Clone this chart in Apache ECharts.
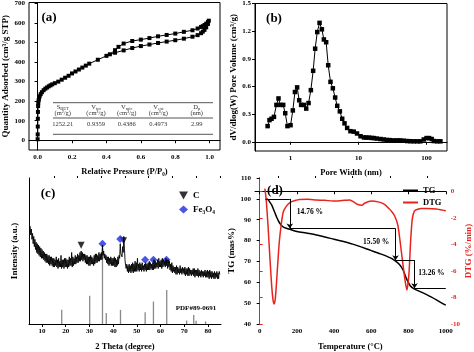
<!DOCTYPE html>
<html>
<head>
<meta charset="utf-8">
<script src="https://cdn.jsdelivr.net/npm/echarts@6/dist/echarts.min.js"></script>
<style>html,body{margin:0;padding:0;background:#fff}#main{width:474px;height:352px}</style>
</head>
<body>
<div id="main"></div>
<script>
var FONT = "'Liberation Serif', 'Times New Roman', serif";

// (a) N2 isotherm
var adsP = [0.0002,0.0005,0.001,0.0015,0.002,0.003,0.004,0.006,0.008,0.012,0.018,0.025,0.035,0.045,0.055,0.065,0.075,0.085,0.1,0.12,0.14,0.16,0.18,0.2,0.22,0.24,0.26,0.28,0.3,0.35,0.4,0.45,0.5,0.55,0.6,0.65,0.7,0.75,0.8,0.85,0.9,0.93,0.95,0.96,0.97,0.98,0.99];
var adsQ = [5,30,70,110,145,175,192,205,214,225,236,246,256,264,270,276,281,286,292,300,310,320,330,342,352,362,372,382,392,412,432,448,460,472,482,490,498,505,512,520,530,538,548,556,565,578,595];
var desP = [0.995,0.99,0.98,0.97,0.96,0.95,0.93,0.9,0.85,0.8,0.75,0.7,0.65,0.6,0.55,0.5,0.47,0.45,0.42];
var desQ = [612,605,597,590,584,580,572,563,555,546,539,532,523,515,508,495,478,461,440];
var tblHead = [['S','BET','(m²/g)'],['V','tot','(cm³/g)'],['V','mic','(cm³/g)'],['V','ext','(cm³/g)'],['D','p','(nm)']];
var tblVals = ['1252.21','0.9359','0.4386','0.4973','2.99'];

// (b) pore size distribution
var poreWidth = [0.46,0.49,0.525,0.57,0.62,0.665,0.71,0.78,0.835,0.90,1.0,1.08,1.16,1.25,1.34,1.43,1.57,1.70,1.84,1.99,2.15,2.30,2.47,2.67,2.89,3.09,3.34,3.58,3.87,4.19,4.53,4.86,5.31,5.75,6.22,6.8,7.6,8.5,9.5,10.7,12,13,14.2,15.5,16.8,18.5,21,23.5,26,29,33,37,41,46,52,58,65,73,81,91,100,109,119,128,143,160];
var poreVol = [0.17,0.235,0.25,0.27,0.40,0.47,0.40,0.40,0.31,0.17,0.18,0.34,0.54,0.59,0.45,0.40,0.40,0.36,0.42,0.56,0.77,1.01,1.19,1.29,1.22,1.11,1.08,0.83,0.65,0.58,0.48,0.39,0.33,0.25,0.20,0.15,0.115,0.11,0.09,0.06,0.047,0.046,0.045,0.042,0.04,0.035,0.03,0.025,0.02,0.018,0.015,0.015,0.015,0.012,0.008,0.006,0.005,0.005,0.005,0.025,0.04,0.04,0.03,0.008,0.005,0.005];

// (c) XRD, 5..85 deg every 0.25 deg (one row = 5 deg)
var xrdStart = 5, xrdStep = 0.25;
var xrdInt = [
  67,61,65,58,62,55,60,53,58,51,56,49,55,48,54,47,53,46,52,45,
  51,45,50,44,49,43,48,42,48,42,47,41,47,40,46,41,46,40,45,39,
  45,39,44,40,46,39,44,38,45,39,43,39,47,38,44,39,44,38,45,39,
  45,39,44,38,44,39,46,40,45,40,49,39,46,40,45,41,47,41,46,42,
  48,42,47,43,49,43,50,44,49,43,48,44,48,42,47,41,47,41,46,40,
  46,40,47,41,46,41,45,40,47,41,48,42,48,42,47,43,49,43,48,44,
  49,44,54,47,50,45,48,44,47,42,46,41,46,40,45,41,46,40,45,40,
  45,40,46,39,45,39,44,40,46,41,47,45,55,48,47,46,53,49,60,52,
  44,40,38,41,36,40,35,41,36,40,35,41,36,42,35,41,36,43,36,42,
  36,45,37,41,36,42,37,41,36,42,37,40,36,41,37,42,36,41,37,42,
  37,43,37,42,38,41,37,42,37,44,38,43,38,42,39,44,38,45,39,43,
  39,44,38,45,39,44,40,43,39,45,40,44,38,44,39,43,37,41,36,42,
  35,40,36,39,35,39,34,40,34,39,35,38,34,40,35,38,34,39,35,38,
  34,39,33,38,34,38,33,39,33,38,34,37,33,37,34,38,33,38,32,37,
  33,37,33,38,32,37,33,36,32,37,33,36,32,36,33,37,32,36,32,37,
  32,36,31,37,32,36,31,36,32,35,31,36,31,35,32,36,31,35,31,36,
  34];
var pdfPos = [18.3,30.1,35.5,37.1,43.1,53.5,57.0,62.6,71.0,74.0,75.0,79.0];
var pdfInt = [9.7,19.3,52,7.5,9.7,8,15.4,23.3,2.3,6.1,2.3,1.8];
var cPeaks = [[26.5,54],[44.4,57]];
var fePeaks = [[35.5,55],[43,58.3],[53.5,44],[57,44],[62.5,44]];

// (d) TG / DTG
var tgT = [32,45,55,65,73,82,91,100,109,118,126,140,162,200,250,305,400,500,600,650,700,725,750,770,790,810,830,850,900,950,1000];
var tgW = [100,99.6,98.4,97,95.3,93.3,91.3,89.6,88.2,87.2,86.6,86,85.4,84.4,83.6,82.7,80.6,78.3,75.2,73.6,71.8,70.5,68.6,66,61.5,58.2,56.8,56,54,51.6,49];
var dtgT = [28,35,45,55,65,72,78,84,90,97,105,115,126,140,162,190,216,260,305,350,394,440,484,528,550,564,600,636,671,689,708,725,743,761,779,791,802,811,820,832,850,868,900,950,993,1000];
var dtgV = [0.2,-0.6,-2.6,-5.0,-7.2,-8.2,-8.5,-8.1,-7.0,-5.5,-3.9,-2.6,-1.6,-1.2,-0.86,-0.7,-0.62,-0.6,-0.66,-0.68,-0.74,-0.7,-0.65,-1.0,-1.05,-0.9,-0.74,-0.8,-0.98,-1.23,-1.5,-1.84,-2.58,-4.5,-6.5,-7.44,-6.26,-3.8,-2.08,-1.47,-1.35,-1.3,-1.3,-1.33,-1.45,-1.47];
// step lines: [x1,y1,x2,y2,arrow]
var tgSteps = [[32,100,162,100,0],[162,100,162,85.8,1],[162,85.8,730,85.8,0],[730,85.8,730,70.6,1],[730,70.6,832,70.6,0],[832,70.6,832,57.1,1],[832,57.1,1000,57.1,0]];
var tgLoss = [['14.76 %',270,93.2],['15.50 %',626,79],['13.26 %',923,64.3]];

var chart = echarts.init(document.getElementById('main'), null, {renderer:'canvas'});

function zip(a,b){ var r=[]; for(var i=0;i<a.length;i++) r.push([a[i],b[i]]); return r; }
var xrdData = xrdInt.map(function(v,i){ return [xrdStart + i*xrdStep, v]; });
var pdfData = zip(pdfPos, pdfInt);

var lbl = {fontFamily:FONT,fontWeight:'bold',fontSize:7,color:'#000',margin:4,formatter:function(v){return String(v);}};
var nameTS = {fontFamily:FONT,fontWeight:'bold',fontSize:9,color:'#000'};
var aLine = {lineStyle:{color:'#000',width:1}};
function tick(vals){ var t={inside:false,length:3,lineStyle:{color:'#000'}}; if(vals) t.customValues=vals; return t; }
function fix1(v){ return v.toFixed(1); }

var markLineData = tgSteps.map(function(s){
  return [{coord:[s[0],s[1]],symbol:'none'},{coord:[s[2],s[3]],symbol:s[4]?'arrow':'none'}];
});

var option = {
  animation:false,
  textStyle:{fontFamily:FONT},
  grid:[
    {left:29,top:2,width:191,height:148,show:true,borderColor:'#000',borderWidth:1},
    {left:255,top:2,width:192,height:149,show:true,borderColor:'#000',borderWidth:1},
    {left:29,top:178,width:192,height:147},
    {left:255,top:178,width:192,height:149}
  ],
  xAxis:[
    {gridIndex:0,type:'value',min:-0.05,max:1.06,axisLine:aLine,splitLine:{show:false},
     axisTick:tick([0,0.2,0.4,0.6,0.8,1.0]),
     axisLabel:Object.assign({},lbl,{customValues:[0,0.2,0.4,0.6,0.8,1.0],formatter:fix1}),
     name:'Relative Pressure (P/P₀)',nameLocation:'middle',nameGap:17,nameTextStyle:Object.assign({},nameTS,{fontSize:8.5})},
    {gridIndex:1,type:'log',logBase:10,min:0.3,max:200,axisLine:aLine,splitLine:{show:false},
     axisTick:tick([1,10,100]),
     axisLabel:Object.assign({},lbl,{customValues:[1,10,100]}),
     name:'Pore Width (nm)',nameLocation:'middle',nameGap:17,nameTextStyle:Object.assign({},nameTS,{fontSize:8.5})},
    {gridIndex:2,type:'value',min:4.5,max:85.5,axisLine:aLine,splitLine:{show:false},
     axisTick:tick([10,20,30,40,50,60,70,80]),
     axisLabel:Object.assign({},lbl,{customValues:[10,20,30,40,50,60,70,80]}),
     name:'2 Theta (degree)',nameLocation:'middle',nameGap:18,nameTextStyle:Object.assign({},nameTS,{fontSize:8.5})},
    {gridIndex:3,type:'value',min:-25,max:1000,axisLine:aLine,splitLine:{show:false},
     axisTick:tick([0,200,400,600,800,1000]),
     axisLabel:Object.assign({},lbl,{customValues:[0,200,400,600,800,1000]}),
     name:'Temperature (°C)',nameLocation:'middle',nameGap:18,nameTextStyle:Object.assign({},nameTS,{fontSize:8.5})},
    // minor ticks
    {gridIndex:2,type:'value',min:4.5,max:85.5,axisLine:{show:false},splitLine:{show:false},axisLabel:{show:false},
     axisTick:{length:2,lineStyle:{color:'#000'},customValues:[15,25,35,45,55,65,75,85]}},
    {gridIndex:3,type:'value',min:-25,max:1000,axisLine:{show:false},splitLine:{show:false},axisLabel:{show:false},
     axisTick:{length:2,lineStyle:{color:'#000'},customValues:[100,300,500,700,900]}}
  ],
  yAxis:[
    {gridIndex:0,type:'value',min:-50,max:705,axisLine:aLine,splitLine:{show:false},
     axisTick:tick([0,100,200,300,400,500,600,700]),
     axisLabel:Object.assign({},lbl,{customValues:[0,100,200,300,400,500,600,700]}),
     name:'Quantity Adsorbed (cm³/g STP)',nameLocation:'middle',nameGap:19,nameTextStyle:nameTS},
    {gridIndex:1,type:'value',min:-0.1,max:1.5,axisLine:aLine,splitLine:{show:false},
     axisTick:tick([0,0.3,0.6,0.9,1.2,1.5]),
     axisLabel:Object.assign({},lbl,{customValues:[0,0.3,0.6,0.9,1.2,1.5],formatter:fix1}),
     name:'dV/dlog(W) Pore Volume (cm³/g)',nameLocation:'middle',nameGap:16,nameTextStyle:nameTS},
    {gridIndex:2,type:'value',min:0,max:100,axisLine:aLine,splitLine:{show:false},axisTick:{show:false},axisLabel:{show:false},
     name:'Intensity (a.u.)',nameLocation:'middle',nameGap:10,nameTextStyle:nameTS},
    {gridIndex:3,type:'value',min:40,max:110,interval:10,axisLine:aLine,splitLine:{show:false},
     axisTick:tick(),axisLabel:lbl,
     name:'TG (mas%)',nameLocation:'middle',nameGap:19,nameTextStyle:nameTS},
    {gridIndex:3,type:'value',position:'right',min:-10,max:1,
     axisLine:{show:true,lineStyle:{color:'#e8231b',width:1}},splitLine:{show:false},
     axisTick:{inside:false,length:3,lineStyle:{color:'#e8231b'},customValues:[-10,-8,-6,-4,-2,0]},
     axisLabel:Object.assign({},lbl,{color:'#e8231b',margin:5,customValues:[-10,-8,-6,-4,-2,0]}),
     name:'DTG (%/min)',nameLocation:'middle',nameGap:18,nameRotate:90,nameTextStyle:Object.assign({},nameTS,{color:'#e8231b'})}
  ],
  legend:[
    {data:[{name:'C',icon:'path://M0,0 L10,0 L5,9 Z'},{name:'Fe₃O₄',icon:'diamond'}],
     left:174,top:186,orient:'vertical',itemWidth:9,itemHeight:8,itemGap:5,
     textStyle:{fontFamily:FONT,fontWeight:'bold',fontSize:9,color:'#000'}},
    {data:[{name:'TG',icon:'rect'},{name:'DTG',icon:'rect'}],
     left:398,top:181,orient:'vertical',itemWidth:15,itemHeight:2,itemGap:3,
     textStyle:{fontFamily:FONT,fontWeight:'bold',fontSize:8.5,color:'#000'}}
  ],
  series:[
    {name:'ads',type:'line',xAxisIndex:0,yAxisIndex:0,data:zip(adsP,adsQ),symbol:'rect',symbolSize:4,
     itemStyle:{color:'#000'},lineStyle:{color:'#000',width:1}},
    {name:'des',type:'line',xAxisIndex:0,yAxisIndex:0,data:zip(desP,desQ),symbol:'rect',symbolSize:4,
     itemStyle:{color:'#000'},lineStyle:{color:'#000',width:1}},
    {name:'psd',type:'line',xAxisIndex:1,yAxisIndex:1,data:zip(poreWidth,poreVol),symbol:'rect',symbolSize:4.5,
     itemStyle:{color:'#000'},lineStyle:{color:'#000',width:1}},
    {name:'pdf',type:'bar',xAxisIndex:2,yAxisIndex:2,data:pdfData,barWidth:1.3,itemStyle:{color:'#8a8a8a'}},
    {name:'xrd',type:'line',xAxisIndex:2,yAxisIndex:2,data:xrdData,symbol:'none',lineStyle:{color:'#000',width:0.9}},
    {name:'C',type:'scatter',xAxisIndex:2,yAxisIndex:2,data:cPeaks,symbol:'triangle',symbolRotate:180,symbolSize:7,
     itemStyle:{color:'#000'}},
    {name:'Fe₃O₄',type:'scatter',xAxisIndex:2,yAxisIndex:2,data:fePeaks,symbol:'diamond',symbolSize:8,
     itemStyle:{color:'#1d2be0'}},
    {name:'TG',type:'line',xAxisIndex:3,yAxisIndex:3,data:zip(tgT,tgW),symbol:'none',smooth:0.3,
     itemStyle:{color:'#000'},lineStyle:{color:'#000',width:1.5},
     markLine:{silent:true,symbol:['none','none'],symbolSize:5,label:{show:false},
       lineStyle:{color:'#000',width:1,type:'solid'},data:markLineData},
     markPoint:{silent:true,symbolSize:1,itemStyle:{color:'rgba(0,0,0,0)'},
       label:{show:true,position:'inside',formatter:'{b}',fontFamily:FONT,fontWeight:'bold',fontSize:7.5,color:'#000'},
       data:tgLoss.map(function(d){return {name:d[0],coord:[d[1],d[2]]};})}},
    {name:'DTG',type:'line',xAxisIndex:3,yAxisIndex:4,data:zip(dtgT,dtgV),symbol:'none',smooth:0.2,
     itemStyle:{color:'#e8231b'},lineStyle:{color:'#e8231b',width:1.5}}
  ],
  graphic:[]
};

// panel labels
var panelLabels = [['(a)',49,18],['(b)',274,19],['(c)',48,194],['(d)',275,191]];
panelLabels.forEach(function(p){
  option.graphic.push({type:'text',x:p[1],y:p[2],style:{text:p[0],fontFamily:FONT,fontWeight:'bold',fontSize:13,fill:'#000',align:'center',verticalAlign:'middle'}});
});
option.graphic.push({type:'text',x:196,y:308,style:{text:'PDF#89-0691',fontFamily:FONT,fontWeight:'bold',fontSize:7,fill:'#000',align:'center',verticalAlign:'middle'}});

// table in (a)
[102.7,118,134.3].forEach(function(y){
  option.graphic.push({type:'line',shape:{x1:53,y1:y,x2:213,y2:y},style:{stroke:'#555',lineWidth:1}});
});
var colX = [62.7,96,126.7,158.3,196.7];
tblHead.forEach(function(h,i){
  option.graphic.push({type:'text',x:colX[i],y:107,style:{text:'{m|'+h[0]+'}{s|'+h[1]+'}',align:'center',verticalAlign:'middle',fill:'#333',
    rich:{m:{fontFamily:FONT,fontSize:6.5,fill:'#333',lineHeight:8},s:{fontFamily:FONT,fontSize:4.5,fill:'#333',lineHeight:8,verticalAlign:'bottom'}}}});
  option.graphic.push({type:'text',x:colX[i],y:113.5,style:{text:h[2],fontFamily:FONT,fontSize:6.5,fill:'#333',align:'center',verticalAlign:'middle'}});
  option.graphic.push({type:'text',x:colX[i],y:124,style:{text:tblVals[i],fontFamily:FONT,fontSize:6.5,fill:'#333',align:'center',verticalAlign:'middle'}});
});

chart.setOption(option);
</script>
</body>
</html>
